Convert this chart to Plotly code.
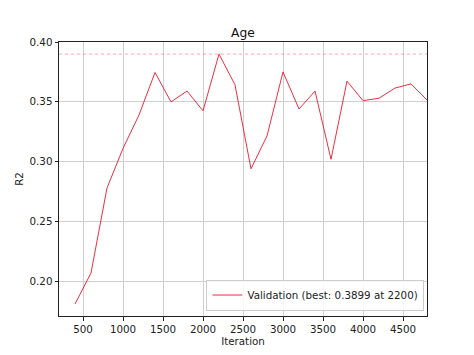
import plotly.graph_objects as go

iterations = [400, 600, 800, 1000, 1200, 1400, 1600, 1800, 2000, 2200, 2400, 2600,
              2800, 3000, 3200, 3400, 3600, 3800, 4000, 4200, 4400, 4600, 4800]
r2_values = [0.181, 0.207, 0.278, 0.311, 0.339, 0.3745, 0.350, 0.359, 0.3425, 0.3899,
             0.3642, 0.294, 0.3215, 0.375, 0.344, 0.359, 0.302, 0.3673, 0.351,
             0.353, 0.3615, 0.365, 0.3515]
best_value = 0.3899
best_iter = 2200
x_tick_vals = [500, 1000, 1500, 2000, 2500, 3000, 3500, 4000, 4500]
y_tick_vals = [0.20, 0.25, 0.30, 0.35, 0.40]

FONT = "DejaVu Sans"

fig = go.Figure()
fig.add_trace(go.Scatter(
    x=iterations, y=r2_values, mode="lines",
    line=dict(color="rgba(232,24,44,0.9)", width=1),
    name=f"Validation (best: {best_value:.4f} at {best_iter})",
))
fig.add_hline(y=best_value, line=dict(color="rgba(255,0,0,0.35)", width=1, dash="dot"))

axis_common = dict(
    showline=True, linecolor="#222222", linewidth=1, mirror=True,
    ticks="outside", ticklen=3.5, tickwidth=1, tickcolor="#222222",
    showgrid=True, gridcolor="#cfcfcf", gridwidth=1, zeroline=False,
    tickfont=dict(family=FONT, size=10.3, color="#222222"),
    automargin=False,
)

# page body has an 8px margin; figure is sized to fit inside the window
fig.update_layout(
    width=458, height=339,
    margin=dict(l=51, r=39, t=34, b=31),
    paper_bgcolor="white", plot_bgcolor="white",
    font=dict(family=FONT, size=10, color="#222222"),
    title=dict(text="Age", x=0.5, xref="paper", xanchor="center",
               y=1, yref="paper", yanchor="bottom", pad=dict(b=5),
               automargin=False,
               font=dict(family=FONT, size=12.3, color="#111111")),
    xaxis=dict(range=[200, 4800], tickvals=x_tick_vals,
               title=dict(text="Iteration", font=dict(family=FONT, size=10.3), standoff=3),
               **axis_common),
    yaxis=dict(range=[0.171, 0.40], tickvals=y_tick_vals, tickformat=".2f",
               title=dict(text="R2", font=dict(family=FONT, size=10.3), standoff=3),
               **axis_common),
    showlegend=True,
    legend=dict(x=0.993, xanchor="right", y=0.02, yanchor="bottom",
                bgcolor="rgba(255,255,255,0.85)", bordercolor="#cccccc", borderwidth=1,
                font=dict(family=FONT, size=10.3, color="#222222"),
                itemwidth=30, tracegroupgap=0),
)

fig.write_html("out.html")
